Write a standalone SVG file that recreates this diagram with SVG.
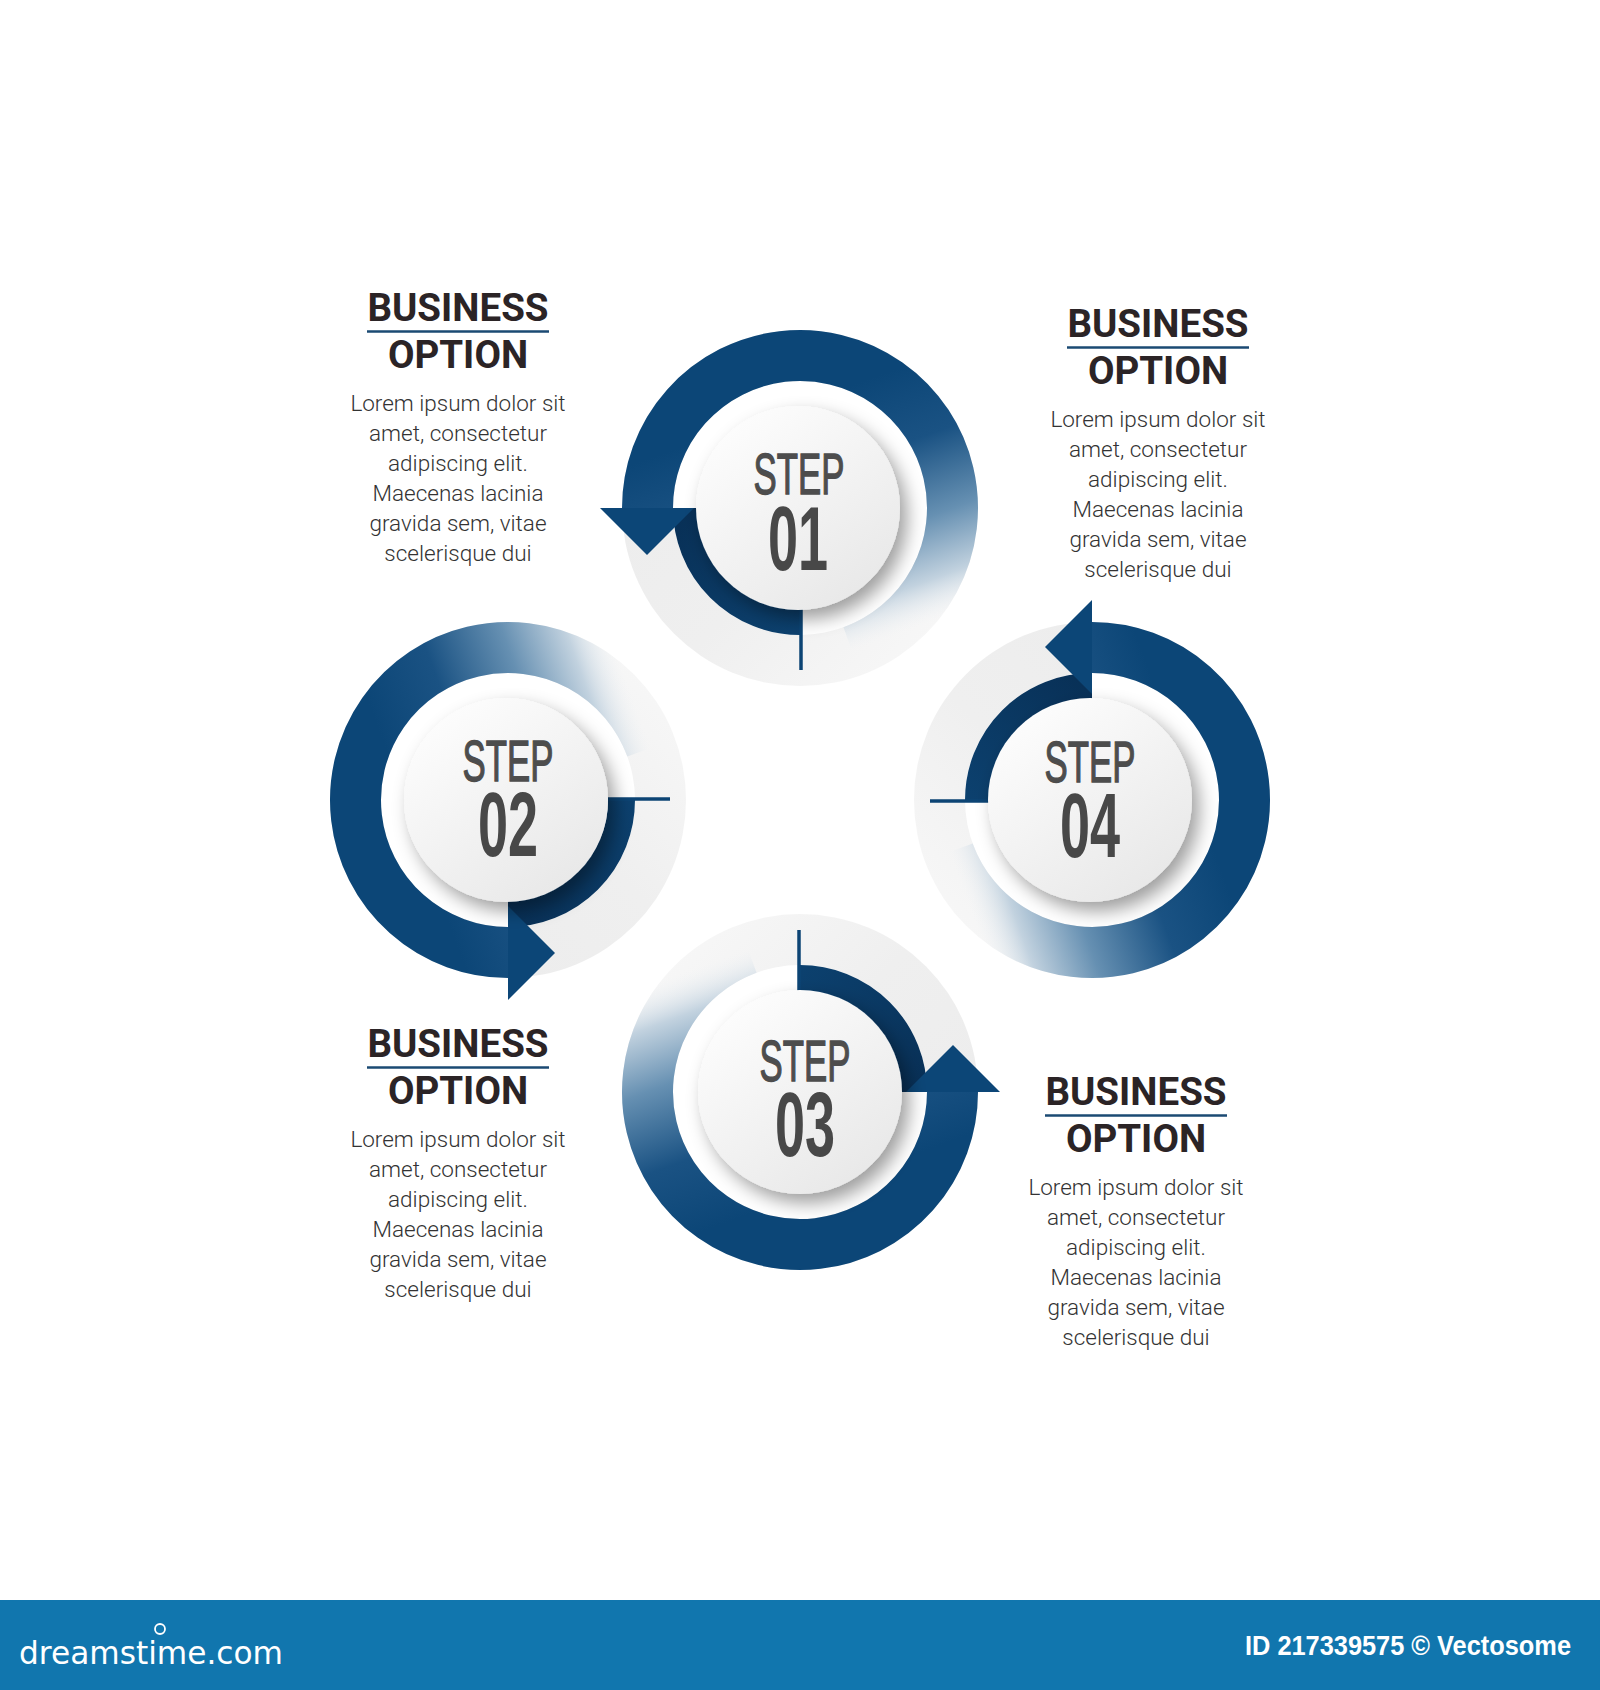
<svg xmlns="http://www.w3.org/2000/svg" xmlns:xlink="http://www.w3.org/1999/xlink" width="1600" height="1690" viewBox="0 0 1600 1690">
<style>
.head { font-family: Roboto, "Liberation Sans", Arial, sans-serif; font-weight: 700; font-size: 38.5px; fill: #2b2426; text-anchor: middle; }
.body { font-family: Roboto, "Liberation Sans", Arial, sans-serif; font-weight: 300; font-size: 22.5px; fill: #333333; text-anchor: middle; }
.uline { stroke: #1b4a73; stroke-width: 2.6; }
.stepw { font-family: "Liberation Sans", Arial, sans-serif; font-weight: 400; font-size: 58px; fill: #4d4d4d; stroke: #4d4d4d; stroke-width: 1.4; text-anchor: middle; }
.num { font-family: "Liberation Sans", Arial, sans-serif; font-weight: 700; font-size: 90px; fill: #484848; text-anchor: middle; }
.btn { fill: url(#btnGrad); filter: url(#btnShadow); }
</style>
<defs>
  <linearGradient id="ringGrad" gradientUnits="userSpaceOnUse" x1="-33.3" y1="-92.1" x2="51.7" y2="142.9">
    <stop offset="0" stop-color="#0c4677"/>
    <stop offset="0.29" stop-color="#1a5283"/>
    <stop offset="0.6" stop-color="#6690b2"/>
    <stop offset="0.84" stop-color="#c2d2df"/>
    <stop offset="1" stop-color="#eef2f5" stop-opacity="0"/>
  </linearGradient>
  <linearGradient id="bandGrad" gradientUnits="userSpaceOnUse" x1="-128" y1="0" x2="0" y2="128">
    <stop offset="0" stop-color="#082f55"/>
    <stop offset="1" stop-color="#0c416f"/>
  </linearGradient>
  <linearGradient id="bgGrad" x1="0" y1="0" x2="1" y2="1">
    <stop offset="0" stop-color="#ebebeb"/>
    <stop offset="0.55" stop-color="#efefef"/>
    <stop offset="1" stop-color="#fafafa"/>
  </linearGradient>
  <linearGradient id="btnGrad" x1="0.2" y1="0.1" x2="0.8" y2="0.95">
    <stop offset="0" stop-color="#fcfcfc"/>
    <stop offset="1" stop-color="#e8e8e8"/>
  </linearGradient>
  <filter id="btnShadow" x="-40%" y="-40%" width="180%" height="180%">
    <feDropShadow dx="7" dy="9" stdDeviation="9" flood-color="#000000" flood-opacity="0.38"/>
  </filter>
  <g id="ringShape">
    <circle r="178" fill="url(#bgGrad)"/>
    <circle r="127" fill="#ffffff"/>
    <path d="M -152.5 0 A 152.5 152.5 0 1 1 52.16 143.30" fill="none" stroke="url(#ringGrad)" stroke-width="51"/>
    <path d="M -113.5 0 A 113.5 113.5 0 0 0 0 113.5" fill="none" stroke="url(#bandGrad)" stroke-width="27"/>
    <line x1="1" y1="100" x2="1" y2="162" stroke="#0c4474" stroke-width="3.5"/>
    <polygon points="-200,0 -106,0 -153,47" fill="#0c4677"/>
  </g>
</defs>

<rect x="0" y="0" width="1600" height="1690" fill="#ffffff"/>

<g id="connectors"></g>

<g id="step-01">
  <use xlink:href="#ringShape" transform="translate(800 508)"/>
  <circle class="btn" cx="798" cy="508" r="102"/>
  <text class="stepw" transform="translate(799 494) scale(0.6 1)">STEP</text>
  <text class="num" transform="translate(798 570) scale(0.6 1)">01</text>
</g>

<g id="step-02">
  <use xlink:href="#ringShape" transform="translate(508 800) rotate(-90)"/>
  <circle class="btn" cx="506" cy="800" r="102"/>
  <text class="stepw" transform="translate(508 781) scale(0.6 1)">STEP</text>
  <text class="num" transform="translate(508 856) scale(0.6 1)">02</text>
</g>

<g id="step-03">
  <use xlink:href="#ringShape" transform="translate(800 1092) rotate(180)"/>
  <circle class="btn" cx="800" cy="1092" r="102"/>
  <text class="stepw" transform="translate(805 1081) scale(0.6 1)">STEP</text>
  <text class="num" transform="translate(805 1156) scale(0.6 1)">03</text>
</g>

<g id="step-04">
  <use xlink:href="#ringShape" transform="translate(1092 800) rotate(90)"/>
  <circle class="btn" cx="1090" cy="800" r="102"/>
  <text class="stepw" transform="translate(1090 782) scale(0.6 1)">STEP</text>
  <text class="num" transform="translate(1090 857) scale(0.6 1)">04</text>
</g>

<g id="option-top-left">
  <text class="head" x="458" y="321">BUSINESS</text>
  <line class="uline" x1="367" y1="331.5" x2="549" y2="331.5"/>
  <text class="head" x="458" y="368">OPTION</text>
  <text class="body" x="458" y="411">Lorem ipsum dolor sit</text>
  <text class="body" x="458" y="441">amet, consectetur</text>
  <text class="body" x="458" y="471">adipiscing elit.</text>
  <text class="body" x="458" y="501">Maecenas lacinia</text>
  <text class="body" x="458" y="531">gravida sem, vitae</text>
  <text class="body" x="458" y="561">scelerisque dui</text>
</g>

<g id="option-top-right">
  <text class="head" x="1158" y="337">BUSINESS</text>
  <line class="uline" x1="1067" y1="347.5" x2="1249" y2="347.5"/>
  <text class="head" x="1158" y="384">OPTION</text>
  <text class="body" x="1158" y="427">Lorem ipsum dolor sit</text>
  <text class="body" x="1158" y="457">amet, consectetur</text>
  <text class="body" x="1158" y="487">adipiscing elit.</text>
  <text class="body" x="1158" y="517">Maecenas lacinia</text>
  <text class="body" x="1158" y="547">gravida sem, vitae</text>
  <text class="body" x="1158" y="577">scelerisque dui</text>
</g>

<g id="option-bottom-left">
  <text class="head" x="458" y="1057">BUSINESS</text>
  <line class="uline" x1="367" y1="1067.5" x2="549" y2="1067.5"/>
  <text class="head" x="458" y="1104">OPTION</text>
  <text class="body" x="458" y="1147">Lorem ipsum dolor sit</text>
  <text class="body" x="458" y="1177">amet, consectetur</text>
  <text class="body" x="458" y="1207">adipiscing elit.</text>
  <text class="body" x="458" y="1237">Maecenas lacinia</text>
  <text class="body" x="458" y="1267">gravida sem, vitae</text>
  <text class="body" x="458" y="1297">scelerisque dui</text>
</g>

<g id="option-bottom-right">
  <text class="head" x="1136" y="1105">BUSINESS</text>
  <line class="uline" x1="1045" y1="1115.5" x2="1227" y2="1115.5"/>
  <text class="head" x="1136" y="1152">OPTION</text>
  <text class="body" x="1136" y="1195">Lorem ipsum dolor sit</text>
  <text class="body" x="1136" y="1225">amet, consectetur</text>
  <text class="body" x="1136" y="1255">adipiscing elit.</text>
  <text class="body" x="1136" y="1285">Maecenas lacinia</text>
  <text class="body" x="1136" y="1315">gravida sem, vitae</text>
  <text class="body" x="1136" y="1345">scelerisque dui</text>
</g>

<g id="footer">
  <rect x="0" y="1600" width="1600" height="90" fill="#1176ae"/>
  <text x="19" y="1664" font-family="'DejaVu Sans', sans-serif" font-size="32" fill="#ffffff" textLength="264" lengthAdjust="spacingAndGlyphs">dreamstime.com</text>
  <circle cx="160" cy="1629" r="5" fill="none" stroke="#ffffff" stroke-width="1.8"/>
  <text x="1245" y="1655" font-family="'Liberation Sans', Arial, sans-serif" font-weight="700" font-size="27" fill="#ffffff" textLength="326" lengthAdjust="spacingAndGlyphs">ID 217339575 © Vectosome</text>
</g>
</svg>
